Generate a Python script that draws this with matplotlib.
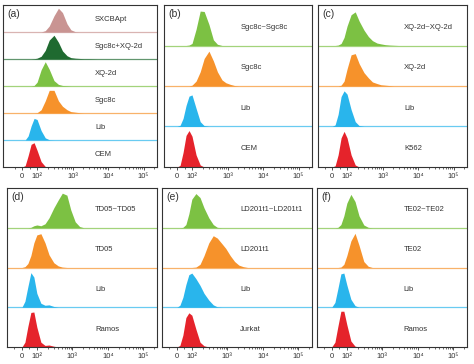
import matplotlib

matplotlib.use("Agg")
import matplotlib.pyplot as plt  # noqa: E402

plt.rcParams["font.family"] = ["Liberation Sans", "DejaVu Sans"]

X = [0, 20, 40, 60, 80, 100, 130, 170, 220, 300, 400, 520, 700, 900, 1200, 1600, 2100, 2800, 3700, 5000]

# each panel: lanes listed top to bottom, heights relative to lane height
A_LABELS = ["SXCBApt", "Sgc8c+XQ-2d", "XQ-2d", "Sgc8c", "Lib", "CEM"]
A_COUNTS = [
    [0, 0, 0, 0, 0, 0, 0, 0.05, 0.22, 0.6, 0.88, 0.72, 0.3, 0.08, 0.01, 0, 0, 0, 0, 0],
    [0, 0, 0, 0, 0.01, 0.03, 0.1, 0.32, 0.7, 0.88, 0.62, 0.3, 0.12, 0.05, 0.03, 0.02, 0.01, 0.01, 0.005, 0],
    [0, 0, 0, 0, 0.02, 0.14, 0.6, 0.9, 0.62, 0.2, 0.06, 0.02, 0.01, 0, 0, 0, 0, 0, 0, 0],
    [0, 0, 0, 0, 0, 0.01, 0.12, 0.45, 0.84, 0.84, 0.45, 0.25, 0.12, 0.05, 0.03, 0.01, 0, 0, 0, 0],
    [0, 0, 0.15, 0.52, 0.8, 0.76, 0.35, 0.08, 0.01, 0, 0, 0, 0, 0, 0, 0, 0, 0, 0, 0],
    [0, 0.05, 0.42, 0.84, 0.9, 0.62, 0.2, 0.02, 0, 0, 0, 0, 0, 0, 0, 0, 0, 0, 0, 0],
]

B_LABELS = ["Sgc8c~Sgc8c", "Sgc8c", "Lib", "CEM"]
B_COUNTS = [
    [0, 0, 0, 0, 0.01, 0.05, 0.4, 0.85, 0.84, 0.52, 0.14, 0.03, 0, 0, 0, 0, 0, 0, 0, 0],
    [0, 0, 0, 0, 0, 0.02, 0.12, 0.35, 0.68, 0.86, 0.62, 0.35, 0.15, 0.08, 0.04, 0.01, 0, 0, 0, 0],
    [0, 0.03, 0.2, 0.52, 0.75, 0.78, 0.45, 0.12, 0.02, 0, 0, 0, 0, 0, 0, 0, 0, 0, 0, 0],
    [0, 0.04, 0.36, 0.78, 0.9, 0.76, 0.3, 0.05, 0, 0, 0, 0, 0, 0, 0, 0, 0, 0, 0, 0],
]

C_LABELS = ["XQ-2d~XQ-2d", "XQ-2d", "Lib", "K562"]
C_COUNTS = [
    [0, 0, 0.01, 0.05, 0.2, 0.48, 0.76, 0.83, 0.6, 0.38, 0.22, 0.12, 0.06, 0.04, 0.02, 0.01, 0.005, 0, 0, 0],
    [0, 0, 0, 0.02, 0.12, 0.42, 0.77, 0.8, 0.55, 0.33, 0.2, 0.1, 0.06, 0.03, 0.02, 0.01, 0, 0, 0, 0],
    [0, 0.04, 0.3, 0.74, 0.88, 0.8, 0.42, 0.12, 0.02, 0, 0, 0, 0, 0, 0, 0, 0, 0, 0, 0],
    [0, 0.03, 0.3, 0.72, 0.88, 0.72, 0.3, 0.05, 0, 0, 0, 0, 0, 0, 0, 0, 0, 0, 0, 0],
]

D_LABELS = ["TD05~TD05", "TD05", "Lib", "Ramos"]
D_COUNTS = [
    [0, 0, 0, 0.01, 0.05, 0.07, 0.05, 0.1, 0.25, 0.5, 0.7, 0.87, 0.82, 0.45, 0.15, 0.03, 0, 0, 0, 0],
    [0, 0.02, 0.1, 0.3, 0.62, 0.82, 0.85, 0.62, 0.32, 0.12, 0.04, 0.01, 0, 0, 0, 0, 0, 0, 0, 0],
    [0, 0.15, 0.52, 0.87, 0.76, 0.35, 0.1, 0.05, 0.06, 0.02, 0, 0, 0, 0, 0, 0, 0, 0, 0, 0],
    [0, 0.12, 0.52, 0.87, 0.88, 0.5, 0.12, 0.04, 0.05, 0.02, 0, 0, 0, 0, 0, 0, 0, 0, 0, 0],
]

E_LABELS = ["LD201t1~LD201t1", "LD201t1", "Lib", "Jurkat"]
E_COUNTS = [
    [0, 0, 0.01, 0.08, 0.35, 0.72, 0.86, 0.76, 0.5, 0.25, 0.08, 0.01, 0, 0, 0, 0, 0, 0, 0, 0],
    [0, 0, 0, 0, 0, 0, 0.01, 0.08, 0.3, 0.62, 0.8, 0.74, 0.6, 0.48, 0.3, 0.15, 0.06, 0.02, 0, 0],
    [0, 0.05, 0.25, 0.57, 0.82, 0.86, 0.72, 0.55, 0.35, 0.18, 0.06, 0.01, 0, 0, 0, 0, 0, 0, 0, 0],
    [0, 0.04, 0.3, 0.74, 0.86, 0.8, 0.45, 0.12, 0.03, 0, 0, 0, 0, 0, 0, 0, 0, 0, 0, 0],
]

F_LABELS = ["TE02~TE02", "TE02", "Lib", "Ramos"]
F_COUNTS = [
    [0, 0, 0.01, 0.08, 0.3, 0.62, 0.84, 0.66, 0.3, 0.07, 0.01, 0, 0, 0, 0, 0, 0, 0, 0, 0],
    [0, 0, 0, 0.01, 0.08, 0.3, 0.67, 0.86, 0.56, 0.15, 0.03, 0, 0, 0, 0, 0, 0, 0, 0, 0],
    [0.01, 0.12, 0.47, 0.84, 0.86, 0.56, 0.2, 0.04, 0, 0, 0, 0, 0, 0, 0, 0, 0, 0, 0, 0],
    [0.01, 0.12, 0.52, 0.9, 0.9, 0.56, 0.15, 0.02, 0, 0, 0, 0, 0, 0, 0, 0, 0, 0, 0, 0],
]

RED, CYAN, ORANGE = "#e5232b", "#29b5ec", "#f6922b"
GREEN, DKGREEN, PINK = "#7cc143", "#1f6a30", "#c99492"

# (tag, labels, counts, colours, axes rect in px [l, t, r, b], xlim left, label x)
PANELS = [
    ("(a)", A_LABELS, A_COUNTS, [PINK, DKGREEN, GREEN, ORANGE, CYAN, RED], (3, 5, 157, 167), -132, 4300),
    ("(b)", B_LABELS, B_COUNTS, [GREEN, ORANGE, CYAN, RED], (164, 5, 312, 167), -88, 2300),
    ("(c)", C_LABELS, C_COUNTS, [GREEN, ORANGE, CYAN, RED], (318, 5, 467, 167), -95, 4000),
    ("(d)", D_LABELS, D_COUNTS, [GREEN, ORANGE, CYAN, RED], (7, 188, 157, 347), -100, 4300),
    ("(e)", E_LABELS, E_COUNTS, [GREEN, ORANGE, CYAN, RED], (162, 188, 312, 347), -100, 2300),
    ("(f)", F_LABELS, F_COUNTS, [GREEN, ORANGE, CYAN, RED], (317, 188, 467, 347), -100, 4000),
]

W, H = 474, 364
MINOR = [-50, 50] + [k * 10 ** e for e in (2, 3, 4) for k in range(2, 10)] + [2e5]

fig = plt.figure(figsize=(W / 100, H / 100), dpi=100)
for tag, labels, counts, colors, (l, t, r, b), xmin, tx in PANELS:
    ax = fig.add_axes([l / W, 1 - b / H, (r - l) / W, (b - t) / H])
    ax.set_xscale("symlog", linthresh=100, linscale=0.378)
    n = len(labels)
    for i, (lab, y, c) in enumerate(zip(labels, counts, colors)):
        base = n - 1 - i
        ax.fill_between(X, base, [base + v for v in y], color=c, lw=0)
        if base > 0:
            ax.axhline(base, color=c, lw=0.9, alpha=0.7)
        ax.text(tx, base + 0.45, lab, fontsize=5.5, va="center", ha="left", color="#333333")
    ax.set_xlim(xmin, 2.4e5)
    ax.set_ylim(0, n)
    ax.set_yticks([])
    ax.set_xticks([0, 100, 1e3, 1e4, 1e5], ["0", "10²", "10³", "10⁴", "10⁵"])
    ax.set_xticks(MINOR, minor=True)
    ax.tick_params(axis="x", which="major", direction="out", length=2.5, width=0.6,
                   labelsize=5.5, pad=2, colors="#333333")
    ax.tick_params(axis="x", which="minor", direction="out", length=1.5, width=0.5,
                   colors="#333333")
    for s in ax.spines.values():
        s.set_linewidth(0.8)
        s.set_color("#333333")
    ax.text(0.03, 0.975, tag, transform=ax.transAxes, fontsize=7.5, va="top", ha="left",
            color="#333333")

fig.savefig("out.png", dpi=100)
